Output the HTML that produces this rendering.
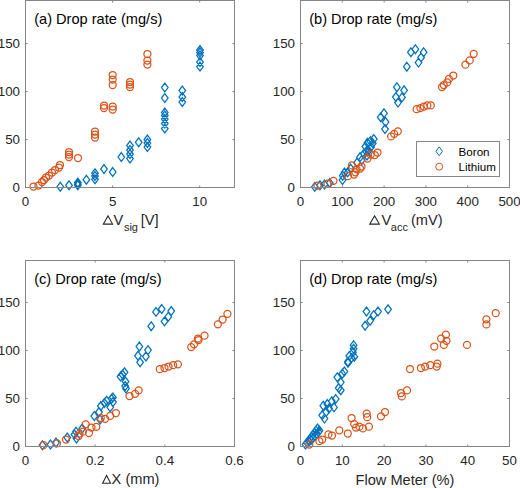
<!DOCTYPE html><html><head><meta charset="utf-8"><style>html,body{margin:0;padding:0;background:#fff;width:520px;height:488px;overflow:hidden}svg{display:block}</style></head><body>
<svg width="520" height="488" viewBox="0 0 520 488" font-family='"Liberation Sans", sans-serif'>
<rect width="520" height="488" fill="#fff"/>
<g>
<path d="M60.3 182.3L63.6 186.7L60.3 191.1L57.0 186.7ZM69.0 180.9L72.3 185.3L69.0 189.7L65.7 185.3ZM77.8 178.2L81.1 182.6L77.8 187.0L74.5 182.6ZM77.8 179.6L81.1 184.0L77.8 188.4L74.5 184.0ZM77.8 180.9L81.1 185.3L77.8 189.7L74.5 185.3ZM86.4 175.3L89.7 179.7L86.4 184.1L83.1 179.7ZM95.0 168.8L98.3 173.2L95.0 177.6L91.7 173.2ZM95.0 171.6L98.3 176.0L95.0 180.4L91.7 176.0ZM95.0 174.9L98.3 179.3L95.0 183.7L91.7 179.3ZM104.0 164.6L107.3 169.0L104.0 173.4L100.7 169.0ZM112.7 167.6L116.0 172.0L112.7 176.4L109.4 172.0ZM121.3 152.6L124.6 157.0L121.3 161.4L118.0 157.0ZM130.0 141.1L133.3 145.5L130.0 149.9L126.7 145.5ZM130.0 145.6L133.3 150.0L130.0 154.4L126.7 150.0ZM130.0 149.6L133.3 154.0L130.0 158.4L126.7 154.0ZM130.0 154.1L133.3 158.5L130.0 162.9L126.7 158.5ZM138.7 137.9L142.0 142.3L138.7 146.7L135.4 142.3ZM147.4 135.1L150.7 139.5L147.4 143.9L144.1 139.5ZM147.4 138.6L150.7 143.0L147.4 147.4L144.1 143.0ZM147.4 142.6L150.7 147.0L147.4 151.4L144.1 147.0ZM164.8 83.1L168.1 87.5L164.8 91.9L161.5 87.5ZM164.8 93.6L168.1 98.0L164.8 102.4L161.5 98.0ZM164.8 108.1L168.1 112.5L164.8 116.9L161.5 112.5ZM164.8 111.1L168.1 115.5L164.8 119.9L161.5 115.5ZM164.8 114.6L168.1 119.0L164.8 123.4L161.5 119.0ZM164.8 119.1L168.1 123.5L164.8 127.9L161.5 123.5ZM164.8 124.1L168.1 128.5L164.8 132.9L161.5 128.5ZM182.3 86.1L185.6 90.5L182.3 94.9L179.0 90.5ZM182.3 92.6L185.6 97.0L182.3 101.4L179.0 97.0ZM182.3 97.6L185.6 102.0L182.3 106.4L179.0 102.0ZM200.0 45.6L203.3 50.0L200.0 54.4L196.7 50.0ZM200.0 48.1L203.3 52.5L200.0 56.9L196.7 52.5ZM200.0 51.1L203.3 55.5L200.0 59.9L196.7 55.5ZM200.0 57.6L203.3 62.0L200.0 66.4L196.7 62.0ZM200.0 62.1L203.3 66.5L200.0 70.9L196.7 66.5Z" fill="none" stroke="#0072BD" stroke-width="1.25"/>
<circle cx="33.5" cy="186.5" r="3.5" fill="none" stroke="#D95319" stroke-width="1.25"/><circle cx="38.5" cy="185.5" r="3.5" fill="none" stroke="#D95319" stroke-width="1.25"/><circle cx="42" cy="182" r="3.5" fill="none" stroke="#D95319" stroke-width="1.25"/><circle cx="44" cy="180" r="3.5" fill="none" stroke="#D95319" stroke-width="1.25"/><circle cx="46" cy="177.5" r="3.5" fill="none" stroke="#D95319" stroke-width="1.25"/><circle cx="49" cy="175.5" r="3.5" fill="none" stroke="#D95319" stroke-width="1.25"/><circle cx="52" cy="172.5" r="3.5" fill="none" stroke="#D95319" stroke-width="1.25"/><circle cx="55" cy="170" r="3.5" fill="none" stroke="#D95319" stroke-width="1.25"/><circle cx="59" cy="167.5" r="3.5" fill="none" stroke="#D95319" stroke-width="1.25"/><circle cx="60" cy="165" r="3.5" fill="none" stroke="#D95319" stroke-width="1.25"/><circle cx="69" cy="152" r="3.5" fill="none" stroke="#D95319" stroke-width="1.25"/><circle cx="69" cy="154.5" r="3.5" fill="none" stroke="#D95319" stroke-width="1.25"/><circle cx="69" cy="157" r="3.5" fill="none" stroke="#D95319" stroke-width="1.25"/><circle cx="78" cy="158" r="3.5" fill="none" stroke="#D95319" stroke-width="1.25"/><circle cx="95" cy="131.5" r="3.5" fill="none" stroke="#D95319" stroke-width="1.25"/><circle cx="95" cy="134.5" r="3.5" fill="none" stroke="#D95319" stroke-width="1.25"/><circle cx="95" cy="137.5" r="3.5" fill="none" stroke="#D95319" stroke-width="1.25"/><circle cx="104" cy="105.5" r="3.5" fill="none" stroke="#D95319" stroke-width="1.25"/><circle cx="104" cy="108" r="3.5" fill="none" stroke="#D95319" stroke-width="1.25"/><circle cx="112.7" cy="106.5" r="3.5" fill="none" stroke="#D95319" stroke-width="1.25"/><circle cx="112.7" cy="109.5" r="3.5" fill="none" stroke="#D95319" stroke-width="1.25"/><circle cx="112.7" cy="75" r="3.5" fill="none" stroke="#D95319" stroke-width="1.25"/><circle cx="112.7" cy="79.5" r="3.5" fill="none" stroke="#D95319" stroke-width="1.25"/><circle cx="112.7" cy="85" r="3.5" fill="none" stroke="#D95319" stroke-width="1.25"/><circle cx="130" cy="82" r="3.5" fill="none" stroke="#D95319" stroke-width="1.25"/><circle cx="130" cy="84.5" r="3.5" fill="none" stroke="#D95319" stroke-width="1.25"/><circle cx="130" cy="87" r="3.5" fill="none" stroke="#D95319" stroke-width="1.25"/><circle cx="147.4" cy="54" r="3.5" fill="none" stroke="#D95319" stroke-width="1.25"/><circle cx="147.4" cy="60.5" r="3.5" fill="none" stroke="#D95319" stroke-width="1.25"/><circle cx="147.4" cy="64.5" r="3.5" fill="none" stroke="#D95319" stroke-width="1.25"/>
</g>
<rect x="25.5" y="0.5" width="209.0" height="187.0" fill="none" stroke="#868686" stroke-width="1"/>
<text x="25.5" y="205.8" font-size="13.33" fill="#262626" text-anchor="middle">0</text>
<text x="112.6" y="205.8" font-size="13.33" fill="#262626" text-anchor="middle">5</text>
<text x="199.7" y="205.8" font-size="13.33" fill="#262626" text-anchor="middle">10</text>
<text x="20.0" y="192.2" font-size="13.33" fill="#262626" text-anchor="end">0</text>
<text x="20.0" y="144.2" font-size="13.33" fill="#262626" text-anchor="end">50</text>
<text x="20.0" y="96.2" font-size="13.33" fill="#262626" text-anchor="end">100</text>
<text x="20.0" y="48.2" font-size="13.33" fill="#262626" text-anchor="end">150</text>
<path d="M25.5 187.5v-2M25.5 0.5v2M112.6 187.5v-2M112.6 0.5v2M199.7 187.5v-2M199.7 0.5v2M25.5 187.5h2M234.5 187.5h-2M25.5 139.5h2M234.5 139.5h-2M25.5 91.5h2M234.5 91.5h-2M25.5 43.5h2M234.5 43.5h-2" stroke="#868686" stroke-width="1" fill="none"/>
<text x="34.2" y="23.9" font-size="14.6" fill="#000">(a) Drop rate (mg/s)</text>
<g>
<path d="M314.8 182.5L318.1 186.9L314.8 191.3L311.5 186.9ZM320.0 180.8L323.3 185.2L320.0 189.6L316.7 185.2ZM324.5 180.1L327.8 184.5L324.5 188.9L321.2 184.5ZM329.8 178.5L333.1 182.9L329.8 187.3L326.5 182.9ZM342.5 175.6L345.8 180.0L342.5 184.4L339.2 180.0ZM342.7 171.4L346.0 175.8L342.7 180.2L339.4 175.8ZM344.5 168.1L347.8 172.5L344.5 176.9L341.2 172.5ZM347.7 167.9L351.0 172.3L347.7 176.7L344.4 172.3ZM350.6 164.1L353.9 168.5L350.6 172.9L347.3 168.5ZM357.0 158.3L360.3 162.7L357.0 167.1L353.7 162.7ZM360.0 152.9L363.3 157.3L360.0 161.7L356.7 157.3ZM363.8 149.4L367.1 153.8L363.8 158.2L360.5 153.8ZM366.2 147.1L369.5 151.5L366.2 155.9L362.9 151.5ZM361.7 155.6L365.0 160.0L361.7 164.4L358.4 160.0ZM365.4 142.1L368.7 146.5L365.4 150.9L362.1 146.5ZM367.0 151.1L370.3 155.5L367.0 159.9L363.7 155.5ZM367.5 138.4L370.8 142.8L367.5 147.2L364.2 142.8ZM368.7 146.2L372.0 150.6L368.7 155.0L365.4 150.6ZM370.3 136.7L373.6 141.1L370.3 145.5L367.0 141.1ZM371.1 142.6L374.4 147.0L371.1 151.4L367.8 147.0ZM372.8 138.8L376.1 143.2L372.8 147.6L369.5 143.2ZM373.8 134.6L377.1 139.0L373.8 143.4L370.5 139.0ZM380.7 112.8L384.0 117.2L380.7 121.6L377.4 117.2ZM384.0 108.9L387.3 113.3L384.0 117.7L380.7 113.3ZM385.6 117.6L388.9 122.0L385.6 126.4L382.3 122.0ZM385.0 124.6L388.3 129.0L385.0 133.4L381.7 129.0ZM395.9 92.6L399.2 97.0L395.9 101.4L392.6 97.0ZM396.9 82.8L400.2 87.2L396.9 91.6L393.6 87.2ZM398.0 98.2L401.3 102.6L398.0 107.0L394.7 102.6ZM402.0 93.0L405.3 97.4L402.0 101.8L398.7 97.4ZM404.1 85.9L407.4 90.3L404.1 94.7L400.8 90.3ZM406.8 62.3L410.1 66.7L406.8 71.1L403.5 66.7ZM410.9 47.9L414.2 52.3L410.9 56.7L407.6 52.3ZM415.4 44.8L418.7 49.2L415.4 53.6L412.1 49.2ZM418.5 58.2L421.8 62.6L418.5 67.0L415.2 62.6ZM421.1 53.0L424.4 57.4L421.1 61.8L417.8 57.4ZM423.6 47.9L426.9 52.3L423.6 56.7L420.3 52.3Z" fill="none" stroke="#0072BD" stroke-width="1.25"/>
<circle cx="317.5" cy="185.5" r="3.5" fill="none" stroke="#D95319" stroke-width="1.25"/><circle cx="327.5" cy="183.5" r="3.5" fill="none" stroke="#D95319" stroke-width="1.25"/><circle cx="333.5" cy="180.8" r="3.5" fill="none" stroke="#D95319" stroke-width="1.25"/><circle cx="348" cy="176.2" r="3.5" fill="none" stroke="#D95319" stroke-width="1.25"/><circle cx="351.9" cy="165.4" r="3.5" fill="none" stroke="#D95319" stroke-width="1.25"/><circle cx="355.4" cy="172.3" r="3.5" fill="none" stroke="#D95319" stroke-width="1.25"/><circle cx="356.5" cy="169.2" r="3.5" fill="none" stroke="#D95319" stroke-width="1.25"/><circle cx="360" cy="168.5" r="3.5" fill="none" stroke="#D95319" stroke-width="1.25"/><circle cx="361.5" cy="166.5" r="3.5" fill="none" stroke="#D95319" stroke-width="1.25"/><circle cx="354" cy="174.5" r="3.5" fill="none" stroke="#D95319" stroke-width="1.25"/><circle cx="367.5" cy="158.5" r="3.5" fill="none" stroke="#D95319" stroke-width="1.25"/><circle cx="370.7" cy="154.6" r="3.5" fill="none" stroke="#D95319" stroke-width="1.25"/><circle cx="374.8" cy="155" r="3.5" fill="none" stroke="#D95319" stroke-width="1.25"/><circle cx="377.5" cy="152.5" r="3.5" fill="none" stroke="#D95319" stroke-width="1.25"/><circle cx="391.1" cy="136.4" r="3.5" fill="none" stroke="#D95319" stroke-width="1.25"/><circle cx="394.2" cy="133.8" r="3.5" fill="none" stroke="#D95319" stroke-width="1.25"/><circle cx="397.8" cy="131.3" r="3.5" fill="none" stroke="#D95319" stroke-width="1.25"/><circle cx="416.6" cy="109.2" r="3.5" fill="none" stroke="#D95319" stroke-width="1.25"/><circle cx="420.4" cy="108" r="3.5" fill="none" stroke="#D95319" stroke-width="1.25"/><circle cx="423.8" cy="106.6" r="3.5" fill="none" stroke="#D95319" stroke-width="1.25"/><circle cx="427.3" cy="105.4" r="3.5" fill="none" stroke="#D95319" stroke-width="1.25"/><circle cx="430.8" cy="105.4" r="3.5" fill="none" stroke="#D95319" stroke-width="1.25"/><circle cx="442" cy="87.1" r="3.5" fill="none" stroke="#D95319" stroke-width="1.25"/><circle cx="443.7" cy="85" r="3.5" fill="none" stroke="#D95319" stroke-width="1.25"/><circle cx="447.2" cy="82.4" r="3.5" fill="none" stroke="#D95319" stroke-width="1.25"/><circle cx="448.9" cy="78.9" r="3.5" fill="none" stroke="#D95319" stroke-width="1.25"/><circle cx="453.3" cy="75.5" r="3.5" fill="none" stroke="#D95319" stroke-width="1.25"/><circle cx="465.4" cy="64.7" r="3.5" fill="none" stroke="#D95319" stroke-width="1.25"/><circle cx="469.7" cy="60.4" r="3.5" fill="none" stroke="#D95319" stroke-width="1.25"/><circle cx="473.7" cy="53.8" r="3.5" fill="none" stroke="#D95319" stroke-width="1.25"/>
</g>
<rect x="300.5" y="0.5" width="209.0" height="187.0" fill="none" stroke="#868686" stroke-width="1"/>
<text x="300.5" y="205.8" font-size="13.33" fill="#262626" text-anchor="middle">0</text>
<text x="342.3" y="205.8" font-size="13.33" fill="#262626" text-anchor="middle">100</text>
<text x="384.1" y="205.8" font-size="13.33" fill="#262626" text-anchor="middle">200</text>
<text x="425.9" y="205.8" font-size="13.33" fill="#262626" text-anchor="middle">300</text>
<text x="467.7" y="205.8" font-size="13.33" fill="#262626" text-anchor="middle">400</text>
<text x="509.5" y="205.8" font-size="13.33" fill="#262626" text-anchor="middle">500</text>
<text x="295.0" y="192.2" font-size="13.33" fill="#262626" text-anchor="end">0</text>
<text x="295.0" y="144.2" font-size="13.33" fill="#262626" text-anchor="end">50</text>
<text x="295.0" y="96.2" font-size="13.33" fill="#262626" text-anchor="end">100</text>
<text x="295.0" y="48.2" font-size="13.33" fill="#262626" text-anchor="end">150</text>
<path d="M300.5 187.5v-2M300.5 0.5v2M342.3 187.5v-2M342.3 0.5v2M384.1 187.5v-2M384.1 0.5v2M425.9 187.5v-2M425.9 0.5v2M467.7 187.5v-2M467.7 0.5v2M509.5 187.5v-2M509.5 0.5v2M300.5 187.5h2M509.5 187.5h-2M300.5 139.5h2M509.5 139.5h-2M300.5 91.5h2M509.5 91.5h-2M300.5 43.5h2M509.5 43.5h-2" stroke="#868686" stroke-width="1" fill="none"/>
<text x="309.2" y="23.9" font-size="14.6" fill="#000">(b) Drop rate (mg/s)</text>
<g>
<path d="M42.5 440.9L45.8 445.3L42.5 449.7L39.2 445.3ZM50.5 440.1L53.8 444.5L50.5 448.9L47.2 444.5ZM56.0 438.1L59.3 442.5L56.0 446.9L52.7 442.5ZM67.3 433.1L70.6 437.5L67.3 441.9L64.0 437.5ZM74.5 430.1L77.8 434.5L74.5 438.9L71.2 434.5ZM76.5 434.1L79.8 438.5L76.5 442.9L73.2 438.5ZM76.0 427.3L79.3 431.7L76.0 436.1L72.7 431.7ZM82.2 424.1L85.5 428.5L82.2 432.9L78.9 428.5ZM94.3 411.6L97.6 416.0L94.3 420.4L91.0 416.0ZM99.0 407.6L102.3 412.0L99.0 416.4L95.7 412.0ZM100.1 415.1L103.4 419.5L100.1 423.9L96.8 419.5ZM100.8 401.6L104.1 406.0L100.8 410.4L97.5 406.0ZM104.4 398.6L107.7 403.0L104.4 407.4L101.1 403.0ZM106.6 396.4L109.9 400.8L106.6 405.2L103.3 400.8ZM110.2 402.9L113.5 407.3L110.2 411.7L106.9 407.3ZM111.6 394.3L114.9 398.7L111.6 403.1L108.3 398.7ZM113.0 397.6L116.3 402.0L113.0 406.4L109.7 402.0ZM112.9 393.0L116.2 397.4L112.9 401.8L109.6 397.4ZM120.5 372.1L123.8 376.5L120.5 380.9L117.2 376.5ZM122.5 370.1L125.8 374.5L122.5 378.9L119.2 374.5ZM124.5 367.9L127.8 372.3L124.5 376.7L121.2 372.3ZM125.5 377.1L128.8 381.5L125.5 385.9L122.2 381.5ZM125.2 381.6L128.5 386.0L125.2 390.4L121.9 386.0ZM126.0 384.1L129.3 388.5L126.0 392.9L122.7 388.5ZM138.0 351.4L141.3 355.8L138.0 360.2L134.7 355.8ZM139.4 342.1L142.7 346.5L139.4 350.9L136.1 346.5ZM140.1 357.9L143.4 362.3L140.1 366.7L136.8 362.3ZM145.9 352.1L149.2 356.5L145.9 360.9L142.6 356.5ZM148.0 345.7L151.3 350.1L148.0 354.5L144.7 350.1ZM151.2 321.8L154.5 326.2L151.2 330.6L147.9 326.2ZM156.0 307.5L159.3 311.9L156.0 316.3L152.7 311.9ZM161.7 304.6L165.0 309.0L161.7 313.4L158.4 309.0ZM164.5 317.0L167.8 321.4L164.5 325.8L161.2 321.4ZM168.3 312.3L171.6 316.7L168.3 321.1L165.0 316.7ZM171.2 306.6L174.5 311.0L171.2 315.4L167.9 311.0Z" fill="none" stroke="#0072BD" stroke-width="1.25"/>
<circle cx="43.5" cy="445.2" r="3.5" fill="none" stroke="#D95319" stroke-width="1.25"/><circle cx="57" cy="443.3" r="3.5" fill="none" stroke="#D95319" stroke-width="1.25"/><circle cx="66" cy="439.5" r="3.5" fill="none" stroke="#D95319" stroke-width="1.25"/><circle cx="78.6" cy="436" r="3.5" fill="none" stroke="#D95319" stroke-width="1.25"/><circle cx="79.4" cy="433.6" r="3.5" fill="none" stroke="#D95319" stroke-width="1.25"/><circle cx="82.9" cy="431.7" r="3.5" fill="none" stroke="#D95319" stroke-width="1.25"/><circle cx="85.7" cy="424.3" r="3.5" fill="none" stroke="#D95319" stroke-width="1.25"/><circle cx="89" cy="433" r="3.5" fill="none" stroke="#D95319" stroke-width="1.25"/><circle cx="91.5" cy="427.5" r="3.5" fill="none" stroke="#D95319" stroke-width="1.25"/><circle cx="96.3" cy="426.8" r="3.5" fill="none" stroke="#D95319" stroke-width="1.25"/><circle cx="100.8" cy="418.1" r="3.5" fill="none" stroke="#D95319" stroke-width="1.25"/><circle cx="105.1" cy="418.8" r="3.5" fill="none" stroke="#D95319" stroke-width="1.25"/><circle cx="110.2" cy="415.9" r="3.5" fill="none" stroke="#D95319" stroke-width="1.25"/><circle cx="115.9" cy="413" r="3.5" fill="none" stroke="#D95319" stroke-width="1.25"/><circle cx="129.5" cy="396" r="3.5" fill="none" stroke="#D95319" stroke-width="1.25"/><circle cx="135.1" cy="393.8" r="3.5" fill="none" stroke="#D95319" stroke-width="1.25"/><circle cx="138.7" cy="390.3" r="3.5" fill="none" stroke="#D95319" stroke-width="1.25"/><circle cx="159.8" cy="369.2" r="3.5" fill="none" stroke="#D95319" stroke-width="1.25"/><circle cx="164.5" cy="368" r="3.5" fill="none" stroke="#D95319" stroke-width="1.25"/><circle cx="168.5" cy="366.5" r="3.5" fill="none" stroke="#D95319" stroke-width="1.25"/><circle cx="173.1" cy="365.2" r="3.5" fill="none" stroke="#D95319" stroke-width="1.25"/><circle cx="177.9" cy="364.3" r="3.5" fill="none" stroke="#D95319" stroke-width="1.25"/><circle cx="191.2" cy="347.1" r="3.5" fill="none" stroke="#D95319" stroke-width="1.25"/><circle cx="194" cy="344.3" r="3.5" fill="none" stroke="#D95319" stroke-width="1.25"/><circle cx="198.5" cy="340" r="3.5" fill="none" stroke="#D95319" stroke-width="1.25"/><circle cx="197.9" cy="338.6" r="3.5" fill="none" stroke="#D95319" stroke-width="1.25"/><circle cx="204.5" cy="335.7" r="3.5" fill="none" stroke="#D95319" stroke-width="1.25"/><circle cx="217.9" cy="324.3" r="3.5" fill="none" stroke="#D95319" stroke-width="1.25"/><circle cx="222.6" cy="319.5" r="3.5" fill="none" stroke="#D95319" stroke-width="1.25"/><circle cx="227.4" cy="313.8" r="3.5" fill="none" stroke="#D95319" stroke-width="1.25"/>
</g>
<rect x="25.5" y="260.5" width="209.0" height="186.0" fill="none" stroke="#868686" stroke-width="1"/>
<text x="25.5" y="464.8" font-size="13.33" fill="#262626" text-anchor="middle">0</text>
<text x="95.2" y="464.8" font-size="13.33" fill="#262626" text-anchor="middle">0.2</text>
<text x="164.8" y="464.8" font-size="13.33" fill="#262626" text-anchor="middle">0.4</text>
<text x="234.5" y="464.8" font-size="13.33" fill="#262626" text-anchor="middle">0.6</text>
<text x="20.0" y="451.2" font-size="13.33" fill="#262626" text-anchor="end">0</text>
<text x="20.0" y="403.2" font-size="13.33" fill="#262626" text-anchor="end">50</text>
<text x="20.0" y="355.2" font-size="13.33" fill="#262626" text-anchor="end">100</text>
<text x="20.0" y="307.2" font-size="13.33" fill="#262626" text-anchor="end">150</text>
<path d="M25.5 446.5v-2M25.5 260.5v2M95.2 446.5v-2M95.2 260.5v2M164.8 446.5v-2M164.8 260.5v2M234.5 446.5v-2M234.5 260.5v2M25.5 446.5h2M234.5 446.5h-2M25.5 398.5h2M234.5 398.5h-2M25.5 350.5h2M234.5 350.5h-2M25.5 302.5h2M234.5 302.5h-2" stroke="#868686" stroke-width="1" fill="none"/>
<text x="34.2" y="283.9" font-size="14.6" fill="#000">(c) Drop rate (mg/s)</text>
<g>
<path d="M305.5 440.1L308.8 444.5L305.5 448.9L302.2 444.5ZM307.0 438.1L310.3 442.5L307.0 446.9L303.7 442.5ZM308.5 436.1L311.8 440.5L308.5 444.9L305.2 440.5ZM310.0 434.1L313.3 438.5L310.0 442.9L306.7 438.5ZM311.5 432.1L314.8 436.5L311.5 440.9L308.2 436.5ZM313.0 430.1L316.3 434.5L313.0 438.9L309.7 434.5ZM314.5 428.1L317.8 432.5L314.5 436.9L311.2 432.5ZM316.0 426.1L319.3 430.5L316.0 434.9L312.7 430.5ZM317.5 424.1L320.8 428.5L317.5 432.9L314.2 428.5ZM309.0 437.1L312.3 441.5L309.0 445.9L305.7 441.5ZM311.0 435.6L314.3 440.0L311.0 444.4L307.7 440.0ZM313.0 433.6L316.3 438.0L313.0 442.4L309.7 438.0ZM315.0 431.6L318.3 436.0L315.0 440.4L311.7 436.0ZM317.0 429.6L320.3 434.0L317.0 438.4L313.7 434.0ZM318.5 427.6L321.8 432.0L318.5 436.4L315.2 432.0ZM319.5 426.1L322.8 430.5L319.5 434.9L316.2 430.5ZM322.2 410.9L325.5 415.3L322.2 419.7L318.9 415.3ZM324.5 414.2L327.8 418.6L324.5 423.0L321.2 418.6ZM326.2 407.5L329.5 411.9L326.2 416.3L322.9 411.9ZM329.0 404.1L332.3 408.5L329.0 412.9L325.7 408.5ZM334.0 403.0L337.3 407.4L334.0 411.8L330.7 407.4ZM323.3 401.3L326.6 405.7L323.3 410.1L320.0 405.7ZM327.3 399.6L330.6 404.0L327.3 408.4L324.0 404.0ZM331.8 396.8L335.1 401.2L331.8 405.6L328.5 401.2ZM335.7 394.5L339.0 398.9L335.7 403.3L332.4 398.9ZM337.3 372.9L340.6 377.3L337.3 381.7L334.0 377.3ZM342.3 369.3L345.6 373.7L342.3 378.1L339.0 373.7ZM344.4 367.1L347.7 371.5L344.4 375.9L341.1 371.5ZM340.8 377.9L344.1 382.3L340.8 386.7L337.5 382.3ZM338.7 383.6L342.0 388.0L338.7 392.4L335.4 388.0ZM340.8 385.8L344.1 390.2L340.8 394.6L337.5 390.2ZM347.9 357.3L351.2 361.7L347.9 366.1L344.6 361.7ZM349.3 351.6L352.6 356.0L349.3 360.4L346.0 356.0ZM348.0 358.5L351.3 362.9L348.0 367.3L344.7 362.9ZM351.6 353.5L354.9 357.9L351.6 362.3L348.3 357.9ZM354.3 352.3L357.6 356.7L354.3 361.1L351.0 356.7ZM353.0 347.8L356.3 352.2L353.0 356.6L349.7 352.2ZM353.6 344.4L356.9 348.8L353.6 353.2L350.3 348.8ZM353.6 340.8L356.9 345.2L353.6 349.6L350.3 345.2ZM365.1 321.4L368.4 325.8L365.1 330.2L361.8 325.8ZM370.1 316.4L373.4 320.8L370.1 325.2L366.8 320.8ZM373.7 310.7L377.0 315.1L373.7 319.5L370.4 315.1ZM366.5 307.1L369.8 311.5L366.5 315.9L363.2 311.5ZM378.0 307.1L381.3 311.5L378.0 315.9L374.7 311.5ZM388.1 304.9L391.4 309.3L388.1 313.7L384.8 309.3Z" fill="none" stroke="#0072BD" stroke-width="1.25"/>
<circle cx="309.3" cy="444.5" r="3.5" fill="none" stroke="#D95319" stroke-width="1.25"/><circle cx="319.4" cy="441.2" r="3.5" fill="none" stroke="#D95319" stroke-width="1.25"/><circle cx="322.2" cy="439.5" r="3.5" fill="none" stroke="#D95319" stroke-width="1.25"/><circle cx="328.4" cy="434.4" r="3.5" fill="none" stroke="#D95319" stroke-width="1.25"/><circle cx="332" cy="435.5" r="3.5" fill="none" stroke="#D95319" stroke-width="1.25"/><circle cx="339.3" cy="430.3" r="3.5" fill="none" stroke="#D95319" stroke-width="1.25"/><circle cx="347.8" cy="433.5" r="3.5" fill="none" stroke="#D95319" stroke-width="1.25"/><circle cx="351.6" cy="418" r="3.5" fill="none" stroke="#D95319" stroke-width="1.25"/><circle cx="354.2" cy="424.1" r="3.5" fill="none" stroke="#D95319" stroke-width="1.25"/><circle cx="356" cy="427.6" r="3.5" fill="none" stroke="#D95319" stroke-width="1.25"/><circle cx="359.4" cy="426.7" r="3.5" fill="none" stroke="#D95319" stroke-width="1.25"/><circle cx="362.9" cy="428.4" r="3.5" fill="none" stroke="#D95319" stroke-width="1.25"/><circle cx="366.7" cy="413.7" r="3.5" fill="none" stroke="#D95319" stroke-width="1.25"/><circle cx="367.2" cy="417.2" r="3.5" fill="none" stroke="#D95319" stroke-width="1.25"/><circle cx="368.9" cy="426.7" r="3.5" fill="none" stroke="#D95319" stroke-width="1.25"/><circle cx="381" cy="416.3" r="3.5" fill="none" stroke="#D95319" stroke-width="1.25"/><circle cx="385" cy="412" r="3.5" fill="none" stroke="#D95319" stroke-width="1.25"/><circle cx="400.9" cy="393" r="3.5" fill="none" stroke="#D95319" stroke-width="1.25"/><circle cx="401.8" cy="396.4" r="3.5" fill="none" stroke="#D95319" stroke-width="1.25"/><circle cx="407" cy="390.4" r="3.5" fill="none" stroke="#D95319" stroke-width="1.25"/><circle cx="410" cy="369" r="3.5" fill="none" stroke="#D95319" stroke-width="1.25"/><circle cx="420.9" cy="368" r="3.5" fill="none" stroke="#D95319" stroke-width="1.25"/><circle cx="425.2" cy="366.6" r="3.5" fill="none" stroke="#D95319" stroke-width="1.25"/><circle cx="430.3" cy="365.2" r="3.5" fill="none" stroke="#D95319" stroke-width="1.25"/><circle cx="436.7" cy="366.6" r="3.5" fill="none" stroke="#D95319" stroke-width="1.25"/><circle cx="437.4" cy="363.7" r="3.5" fill="none" stroke="#D95319" stroke-width="1.25"/><circle cx="434.3" cy="346.5" r="3.5" fill="none" stroke="#D95319" stroke-width="1.25"/><circle cx="441.1" cy="338.6" r="3.5" fill="none" stroke="#D95319" stroke-width="1.25"/><circle cx="443.8" cy="344.9" r="3.5" fill="none" stroke="#D95319" stroke-width="1.25"/><circle cx="445.9" cy="334.7" r="3.5" fill="none" stroke="#D95319" stroke-width="1.25"/><circle cx="446.5" cy="340.8" r="3.5" fill="none" stroke="#D95319" stroke-width="1.25"/><circle cx="467" cy="344.9" r="3.5" fill="none" stroke="#D95319" stroke-width="1.25"/><circle cx="486.4" cy="319.3" r="3.5" fill="none" stroke="#D95319" stroke-width="1.25"/><circle cx="486.4" cy="324.4" r="3.5" fill="none" stroke="#D95319" stroke-width="1.25"/><circle cx="495.7" cy="313.2" r="3.5" fill="none" stroke="#D95319" stroke-width="1.25"/>
</g>
<rect x="300.5" y="260.5" width="209.0" height="186.0" fill="none" stroke="#868686" stroke-width="1"/>
<text x="300.5" y="464.8" font-size="13.33" fill="#262626" text-anchor="middle">0</text>
<text x="342.3" y="464.8" font-size="13.33" fill="#262626" text-anchor="middle">10</text>
<text x="384.1" y="464.8" font-size="13.33" fill="#262626" text-anchor="middle">20</text>
<text x="425.9" y="464.8" font-size="13.33" fill="#262626" text-anchor="middle">30</text>
<text x="467.7" y="464.8" font-size="13.33" fill="#262626" text-anchor="middle">40</text>
<text x="509.5" y="464.8" font-size="13.33" fill="#262626" text-anchor="middle">50</text>
<text x="295.0" y="451.2" font-size="13.33" fill="#262626" text-anchor="end">0</text>
<text x="295.0" y="403.2" font-size="13.33" fill="#262626" text-anchor="end">50</text>
<text x="295.0" y="355.2" font-size="13.33" fill="#262626" text-anchor="end">100</text>
<text x="295.0" y="307.2" font-size="13.33" fill="#262626" text-anchor="end">150</text>
<path d="M300.5 446.5v-2M300.5 260.5v2M342.3 446.5v-2M342.3 260.5v2M384.1 446.5v-2M384.1 260.5v2M425.9 446.5v-2M425.9 260.5v2M467.7 446.5v-2M467.7 260.5v2M509.5 446.5v-2M509.5 260.5v2M300.5 446.5h2M509.5 446.5h-2M300.5 398.5h2M509.5 398.5h-2M300.5 350.5h2M509.5 350.5h-2M300.5 302.5h2M509.5 302.5h-2" stroke="#868686" stroke-width="1" fill="none"/>
<text x="309.2" y="283.9" font-size="14.6" fill="#000">(d) Drop rate (mg/s)</text>
<path d="M103.4 224.1L108.0 215.9L112.6 224.1Z" fill="none" stroke="#262626" stroke-width="1.05" stroke-linejoin="miter"/>
<text x="113.4" y="225.2" font-size="14.6" fill="#262626">V</text>
<text x="123.9" y="231.4" font-size="11" fill="#262626">sig</text>
<text x="140.8" y="225.2" font-size="14.6" fill="#262626">[V]</text>
<path d="M369.8 224.1L374.6 215.9L379.4 224.1Z" fill="none" stroke="#262626" stroke-width="1.05" stroke-linejoin="miter"/>
<text x="381.4" y="225.2" font-size="14.6" fill="#262626">V</text>
<text x="390.8" y="231.4" font-size="11" fill="#262626">acc</text>
<text x="411.0" y="225.2" font-size="14.6" fill="#262626">(mV)</text>
<path d="M102.6 483.3L106.6 475.4L110.6 483.3Z" fill="none" stroke="#262626" stroke-width="1.05" stroke-linejoin="miter"/>
<text x="111.6" y="484.2" font-size="14.6" fill="#262626">X (mm)</text>
<text x="405" y="484.6" font-size="14.6" fill="#262626" text-anchor="middle">Flow Meter (%)</text>
<rect x="416.5" y="141.5" width="83" height="35" fill="#fff" stroke="#868686" stroke-width="1"/>
<path d="M439.2 146.9L442.5 151.3L439.2 155.7L435.9 151.3Z" fill="none" stroke="#0072BD" stroke-width="1"/>
<circle cx="439.2" cy="166.7" r="3.5" fill="none" stroke="#D95319" stroke-width="1"/>
<text x="458.6" y="155.6" font-size="11.6" fill="#000">Boron</text>
<text x="458.6" y="171.3" font-size="11.6" fill="#000">Lithium</text>
</svg></body></html>
